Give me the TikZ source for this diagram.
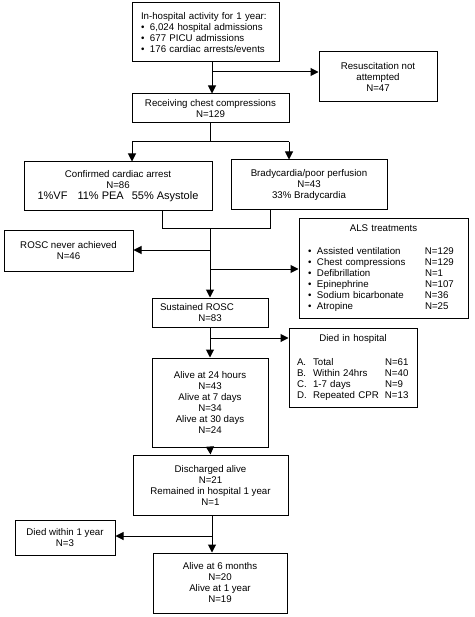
\documentclass[tikz,border=0pt]{standalone}
\usepackage{fontspec}
\setmainfont{Liberation Sans}
\usetikzlibrary{arrows.meta}

\begin{document}
\begin{tikzpicture}[x=1pt,y=1pt,yscale=-1,xscale=1,
		box/.style={draw, line width=1pt, inner sep=0pt, align=center, font=\fontsize{9.7pt}{11pt}\selectfont},
		flow/.style={line width=1pt},
		arrow/.style={flow, -{Triangle[length=8pt,width=8pt]}}]
		% Page has the size of the diagram
		\useasboundingbox (0,0) rectangle (474,617);

		% Start: activity over one year
		\node[box, minimum height=59pt, inner xsep=9pt, text width=129pt, align=left] (act) at (205.5,32.5)
		{In-hospital activity for 1 year:\\
		\makebox[9pt][l]{\textbullet}6,024 hospital admissions\\
		\makebox[9pt][l]{\textbullet}677 PICU admissions\\
		\makebox[9pt][l]{\textbullet}176 cardiac arrests/events};

		% No resuscitation
		\node[box, minimum width=118pt, minimum height=50pt] (notatt) at (378,77) {Resuscitation not\\attempted\\N=47};

		% Chest compressions
		\node[box, minimum width=157pt, minimum height=29pt] (recv) at (210.5,108.5) {Receiving chest compressions\\N=129};

		% The two groups
		\node[box, minimum width=188pt, minimum height=49pt] (card) at (118,186.5)
		{Confirmed cardiac arrest\\N=86\\{\fontsize{11pt}{13pt}\selectfont 1\%VF\hspace{10pt}11\% PEA\hspace{8pt}55\% Asystole}};
		\node[box, minimum width=156pt, minimum height=50pt] (brady) at (309,185) {Bradycardia/poor perfusion\\N=43\\33\% Bradycardia};

		% ROSC never achieved
		\node[box, minimum width=129pt, minimum height=40pt] (never) at (68.5,251) {ROSC never achieved\\N=46};

		% ALS treatments
		\node[box, minimum height=99pt, inner xsep=9pt, text width=151pt, align=left] (als) at (383.5,268.5)
		{\makebox[151pt][c]{ALS treatments}\\[12pt]
		\makebox[9pt][l]{\textbullet}\makebox[108pt][l]{Assisted ventilation}N=129\\
		\makebox[9pt][l]{\textbullet}\makebox[108pt][l]{Chest compressions}N=129\\
		\makebox[9pt][l]{\textbullet}\makebox[108pt][l]{Defibrillation}N=1\\
		\makebox[9pt][l]{\textbullet}\makebox[108pt][l]{Epinephrine}N=107\\
		\makebox[9pt][l]{\textbullet}\makebox[108pt][l]{Sodium bicarbonate}N=36\\
		\makebox[9pt][l]{\textbullet}\makebox[108pt][l]{Atropine}N=25};

		% Sustained ROSC
		\node[box, minimum width=116pt, minimum height=29pt] (rosc) at (210,312.5) {\makebox[100pt][l]{Sustained ROSC}\\N=83};

		% Died in hospital
		\node[box, minimum height=79pt, inner xsep=8pt, text width=112pt, align=left] (died) at (353,367.5)
		{\makebox[112pt][c]{Died in hospital}\\[13pt]
		\makebox[16pt][l]{A.}\makebox[72pt][l]{Total}N=61\\
		\makebox[16pt][l]{B.}\makebox[72pt][l]{Within 24hrs}N=40\\
		\makebox[16pt][l]{C.}\makebox[72pt][l]{1-7 days}N=9\\
		\makebox[16pt][l]{D.}\makebox[72pt][l]{Repeated CPR}N=13};

		% Survivors
		\node[box, minimum width=116pt, minimum height=89pt] (alive24) at (210,402.5)
		{Alive at 24 hours\\N=43\\Alive at 7 days\\N=34\\Alive at 30 days\\N=24};
		\node[box, minimum width=155pt, minimum height=60pt] (disch) at (210.5,485)
		{Discharged alive\\N=21\\Remained in hospital 1 year\\N=1};
		\node[box, minimum width=100pt, minimum height=35pt] (died1) at (65,537.5) {Died within 1 year\\N=3};
		\node[box, minimum width=134pt, minimum height=60pt] (alive6) at (220,583)
		{Alive at 6 months\\N=20\\Alive at 1 year\\N=19};

		% Junctions
		\coordinate (toNot) at (212,72);
		\coordinate (splitL) at (132,142);
		\coordinate (splitR) at (289,142);
		\coordinate (mergeL) at (162,229);
		\coordinate (mergeR) at (270,229);
		\coordinate (mergeC) at (210,229);
		\coordinate (toNever) at (210,250);
		\coordinate (toALS) at (210,269);
		\coordinate (toDied) at (210,338);
		\coordinate (toDied1) at (212,536);

		% Connectors
		\draw[arrow] (toNot |- act.south) -- (toNot |- recv.north);
		\draw[arrow] (toNot) -- (toNot -| notatt.west);
		\draw[flow] (recv.south) -- (recv.south |- splitL);
		\draw[flow] (splitL) -- (splitR);
		\draw[arrow] (splitL) -- (splitL |- card.north);
		\draw[arrow] (splitR) -- (splitR |- brady.north);
		\draw[flow] (mergeL |- card.south) -- (mergeL) -- (mergeR) -- (mergeR |- brady.south);
		\draw[arrow] (mergeC) -- (rosc.north);
		\draw[arrow] (toNever) -- (toNever -| never.east);
		\draw[arrow] (toALS) -- (toALS -| als.west);
		\draw[arrow] (rosc.south) -- (alive24.north);
		\draw[arrow] (toDied) -- (toDied -| died.west);
		\draw[arrow] (alive24.south) -- (disch.north);
		\draw[arrow] (toDied1 |- disch.south) -- (toDied1 |- alive6.north);
		\draw[arrow] (toDied1) -- (toDied1 -| died1.east);
	\end{tikzpicture}
\end{document}
